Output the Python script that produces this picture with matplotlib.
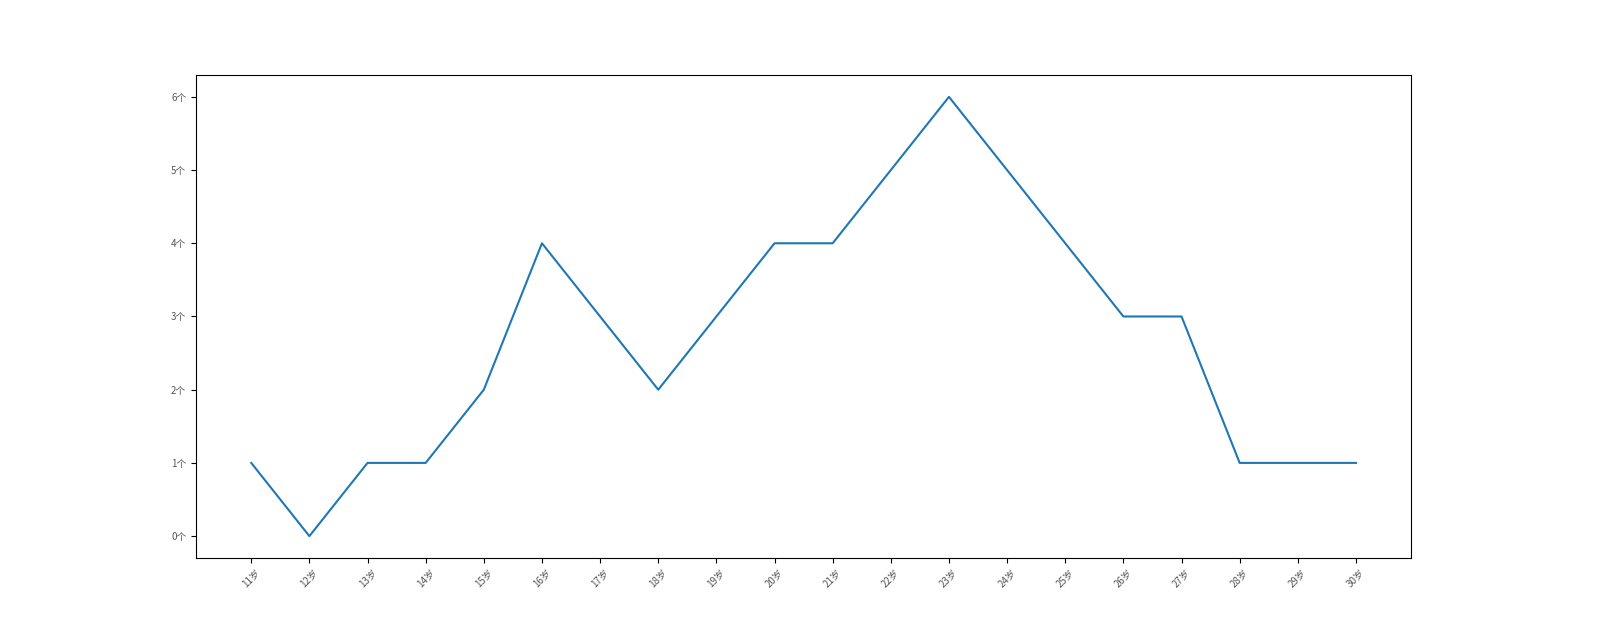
import matplotlib
matplotlib.use("Agg")
from matplotlib import pyplot as plt  # noqa: E402

plt.rcParams["font.family"] = ["Noto Sans CJK SC", "DejaVu Sans"]

ages = list(range(11, 31))
counts = [1, 0, 1, 1, 2, 4, 3, 2, 3, 4, 4, 5, 6, 5, 4, 3, 3, 1, 1, 1]
x_labels = [f"{a}岁" for a in ages]
y_values = list(range(0, 7))
y_labels = [f"{v}个" for v in y_values]

fig = plt.figure(figsize=(16, 6.4), dpi=100)
fig.subplots_adjust(left=0.1225, right=0.882, top=0.883, bottom=0.128)
ax = fig.add_subplot(111)

ax.plot(ages, counts)
ax.set_xticks(ages)
ax.set_xticklabels(x_labels, rotation=45, fontsize=7, color="#555555")
ax.set_yticks(y_values)
ax.set_yticklabels(y_labels, fontsize=7, color="#555555")

plt.savefig("out.png", dpi=100)
plt.close(fig)
